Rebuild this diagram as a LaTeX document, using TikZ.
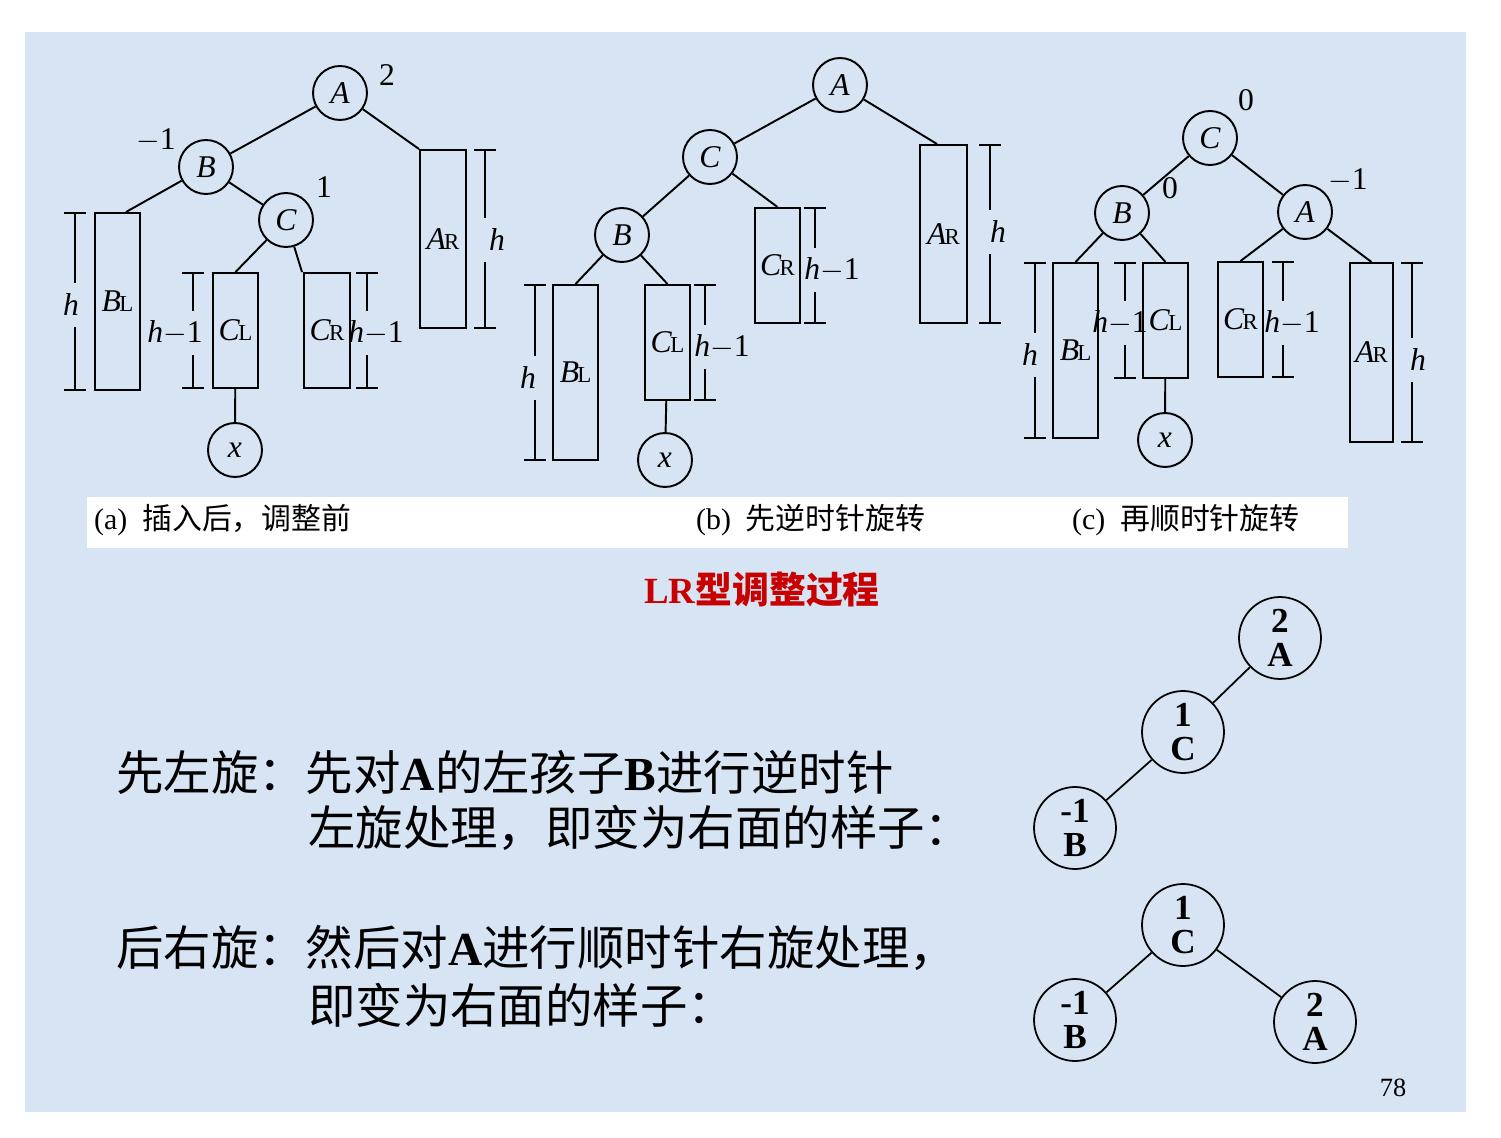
\documentclass[tikz,border=0pt]{standalone}
\usepackage{fontspec}
\setmainfont{Liberation Serif}
\newfontfamily\cjk{Noto Sans CJK SC}
\begin{document}
\begin{tikzpicture}[x=0.02cm,y=-0.02cm,
  tn/.style={draw,circle,line width=1.1pt,minimum size=1.08cm,inner sep=0pt,font=\fontsize{18}{18}\selectfont\itshape},
  bx/.style={draw,line width=1.1pt,inner sep=0pt,font=\fontsize{18}{18}\selectfont},
  ed/.style={line width=1.1pt},
  br/.style={line width=1.1pt},
  lb/.style={font=\fontsize{18}{18}\selectfont},
  sn/.style={draw,circle,line width=1pt,minimum size=1.64cm,inner sep=0pt,align=center,font=\fontsize{20}{19}\selectfont\bfseries},
  big/.style={anchor=west,font=\fontsize{27}{27}\selectfont\cjk},
  captxt/.style={anchor=west,font=\fontsize{17}{17}\selectfont}]
\useasboundingbox (0,0) rectangle (1501,1138);
\fill[fill={rgb,255:red,214;green,228;blue,243}] (25,32) rectangle (1466,1112);
\fill[white] (87,497) rectangle (1348,548);
\newcommand{\bxn}[6]{\node[bx,minimum width={(#4-#2)*0.02cm},minimum height={(#5-#3)*0.02cm}] (#1) at ({(#2+#4)/2},{(#3+#5)/2}) {#6};}
\newcommand{\hbr}[6]{\draw[br] (#1-11,#2)--(#1+11,#2) (#1-11,#3)--(#1+11,#3) (#1,#2)--(#1,#4-22) (#1,#4+22)--(#1,#3); \node[lb] at (#5,#4) {#6};}
\newcommand{\sub}[2]{\textit{#1}\kern-1pt{\fontsize{13}{13}\selectfont #2}}
\newcommand{\lat}[1]{{\rmfamily\bfseries #1}}
% (a)
\node[tn] (aA) at (340,93) {A}; \node[lb] at (387,75) {2};
\node[tn] (aB) at (206,167) {B}; \node[lb] at (156,140) {$-$1};
\node[tn] (aC) at (286,220) {C}; \node[lb] at (324,187) {1};
\bxn{aAR}{420}{150}{466}{328}{\sub{A}{R}}
\bxn{aBL}{95}{213}{140}{390}{\sub{B}{L}}
\bxn{aCL}{213}{273}{258}{388}{\sub{C}{L}}
\bxn{aCR}{304}{273}{350}{388}{\sub{C}{R}}
\node[tn] (ax) at (235,450) {x};
\draw[ed] (aA)--(aB) (aA)--(aAR.north west) (aB)--(aC) (aB)--([xshift=-0.3cm]aBL.north east) (aC)--(aCL.north) (aC)--([xshift=-0.5cm]aCR.north) (aCL)--(ax);
\hbr{485}{150}{328}{240}{497}{\textit{h}}
\hbr{75}{213}{390}{305}{71}{\textit{h}}
\hbr{193}{273}{388}{333}{175}{\textit{h}$-$1}
\hbr{367}{273}{388}{333}{376}{\textit{h}$-$1}
% (b)
\node[tn] (bA) at (840,85) {A};
\node[tn] (bC) at (710,157) {C};
\node[tn] (bB) at (622,235) {B};
\bxn{bAR}{920}{145}{967}{323}{\sub{A}{R}}
\bxn{bCR}{755}{208}{800}{323}{\sub{C}{R}}
\bxn{bBL}{553}{285}{598}{460}{\sub{B}{L}}
\bxn{bCL}{645}{285}{690}{400}{\sub{C}{L}}
\node[tn] (bx) at (665,460) {x};
\draw[ed] (bA)--(bC) (bA)--([xshift=0.36cm]bAR.north west) (bC)--(bB) (bC)--(bCR.north) (bB)--(bBL.north) (bB)--(bCL.north) (bCL)--(bx);
\hbr{990}{145}{323}{232}{998}{\textit{h}}
\hbr{815}{208}{323}{270}{832}{\textit{h}$-$1}
\hbr{535}{285}{460}{378}{528}{\textit{h}}
\hbr{705}{285}{400}{347}{722}{\textit{h}$-$1}
% (c)
\node[tn] (cC) at (1210,138) {C}; \node[lb] at (1246,100) {0};
\node[tn] (cB) at (1122,213) {B}; \node[lb] at (1170,188) {0};
\node[tn] (cA) at (1305,212) {A}; \node[lb] at (1348,180) {$-$1};
\bxn{cBL}{1053}{263}{1098}{438}{\sub{B}{L}}
\bxn{cCL}{1143}{263}{1188}{378}{\sub{C}{L}}
\bxn{cCR}{1218}{262}{1263}{377}{\sub{C}{R}}
\bxn{cAR}{1350}{263}{1393}{442}{\sub{A}{R}}
\node[tn] (cx) at (1165,440) {x};
\draw[ed] (cC)--(cB) (cC)--(cA) (cB)--(cBL.north) (cB)--(cCL.north) (cA)--(cCR.north) (cA)--(cAR.north) (cCL)--(cx);
\hbr{1035}{263}{438}{355}{1030}{\textit{h}}
\hbr{1125}{263}{378}{323}{1120}{\textit{h}$-$1}
\hbr{1283}{262}{377}{323}{1292}{\textit{h}$-$1}
\hbr{1412}{263}{442}{360}{1418}{\textit{h}}
% captions
\node[captxt] (ca) at (88,520) {(a)\ \ {\cjk 插入后，调整前}};
\node[captxt] (cb) at (690,520) {(b)\ \ {\cjk 先逆时针旋转}};
\node[captxt] (cc) at (1066,520) {(c)\ \ {\cjk 再顺时针旋转}};
\node[font=\fontsize{21}{21}\selectfont\bfseries,text={rgb,255:red,200;green,0;blue,0}] (title) at (762,590) {LR{\cjk 型调整过程}};
% text
\node[big] (t1) at (110,772) {先左旋：先对\lat{A}的左孩子\lat{B}进行逆时针};
\node[big] (t2) at (302,828) {左旋处理，即变为右面的样子：};
\node[big] (t3) at (110,948) {后右旋：然后对\lat{A}进行顺时针右旋处理，};
\node[big] (t4) at (302,1005) {即变为右面的样子：};
% small trees
\node[sn] (s1A) at (1280,638) {2\\A};
\node[sn] (s1C) at (1183,732) {1\\C};
\node[sn] (s1B) at (1075,828) {-1\\B};
\draw[line width=1pt] (s1A)--(s1C) (s1C)--(s1B);
\node[sn] (s2C) at (1183,925) {1\\C};
\node[sn] (s2B) at (1075,1020) {-1\\B};
\node[sn] (s2A) at (1315,1022) {2\\A};
\draw[line width=1pt] (s2C)--(s2B) (s2C)--(s2A);
\node[font=\fontsize{15}{15}\selectfont] (pg) at (1393,1088) {78};
\end{tikzpicture}
\end{document}
